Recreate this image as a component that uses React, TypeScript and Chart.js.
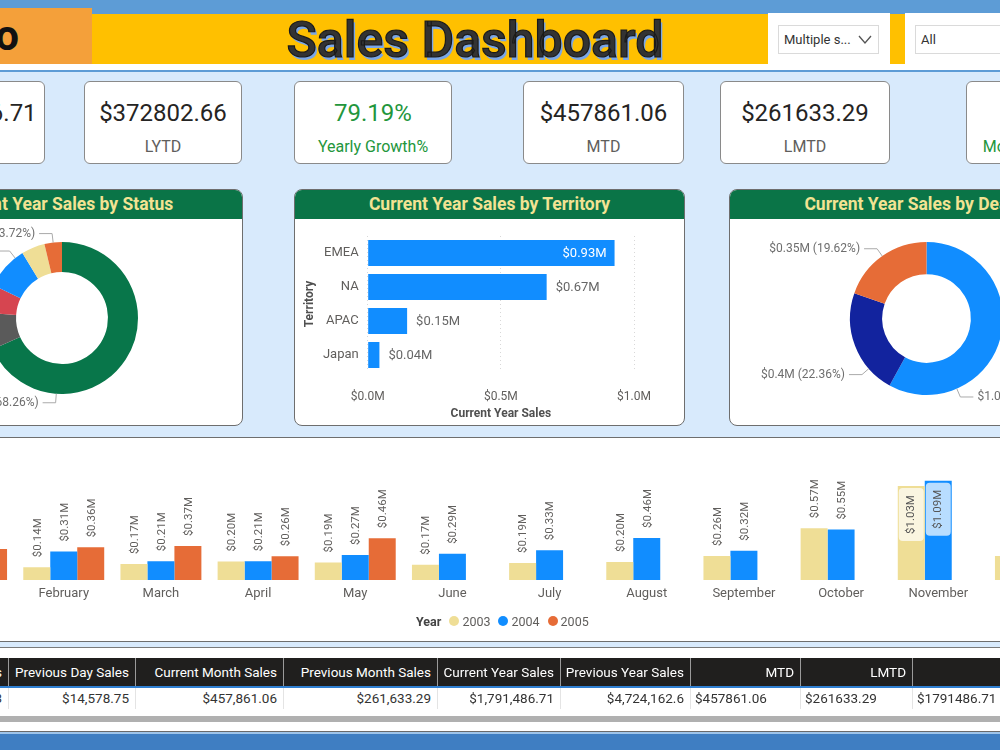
import React, { useEffect, useRef } from "react";
import { Chart, registerables } from "chart.js";
Chart.register(...registerables);
Chart.defaults.font.family = "Roboto, 'Noto Sans', sans-serif";

// ---------- data ----------
const months = ["January","February","March","April","May","June","July","August","September","October","November","December"];
const sales2003 = [0.1298, 0.1408, 0.1745, 0.2016, 0.1927, 0.1681, 0.1877, 0.1978, 0.2640, 0.5683, 1.0298, 0.2619];
const sales2004 = [0.3166, 0.3114, 0.2057, 0.2061, 0.2734, 0.2867, 0.3271, 0.4615, 0.3208, 0.5529, 1.0890, 0.3728];
const sales2005 = [0.3395, 0.3582, 0.3743, 0.2616, 0.4579, null, null, null, null, null, null, null];
const yearLabels = ["2003", "2004", "2005"];

const territories = ["EMEA", "NA", "APAC", "Japan"];
const territorySales = [0.927, 0.672, 0.148, 0.044];
const territoryTicks = [0, 0.5, 1.0];

const statusLabels = ["Shipped", "Cancelled", "Resolved", "On Hold", "In Process", "Disputed"];
const statusSales = [1.2229, 0.1401, 0.1075, 0.1648, 0.0896, 0.0666];

const dealLabels = ["Medium", "Small", "Large"];
const dealSales = [1.0394, 0.4006, 0.3515];

const kpiValues = ["$1791486.71", "$372802.66", "79.19%", "$457861.06", "$261633.29", "75.00%"];
const kpiNames = ["YTD", "LYTD", "Yearly Growth%", "MTD", "LMTD", "Monthly Growth%"];

const tableHeaders = ["Current Day Sales", "Previous Day Sales", "Current Month Sales", "Previous Month Sales", "Current Year Sales", "Previous Year Sales", "MTD", "LMTD", "YTD"];
const tableValues = ["$10,253.43", "$14,578.75", "$457,861.06", "$261,633.29", "$1,791,486.71", "$4,724,162.6", "$457861.06", "$261633.29", "$1791486.71"];

// ---------- styles ----------
const yearColors = ["#EFDE96", "#118DFF", "#E66C37"];
const statusColors = ["#08764A", "#5A5A5A", "#D64550", "#118DFF", "#EFDE96", "#E66C37"];
const dealColors = ["#118DFF", "#12239E", "#E66C37"];
const GREEN = "#0A7447";
const TITLE = "#F2E393";

const fmtM = (v: number) => "$" + Number(v.toFixed(2)) + "M";
const fmt2 = (v: number) => "$" + v.toFixed(2) + "M";

// ---------- plugins ----------
const donutLabels = {
  id: "donutLabels",
  afterDatasetsDraw(chart: any, _a: any, opts: any) {
    const { ctx } = chart;
    const meta = chart.getDatasetMeta(0);
    const data = chart.data.datasets[0].data as number[];
    const total = data.reduce((a, b) => a + b, 0);
    ctx.save();
    ctx.font = "12px Roboto, 'Noto Sans', sans-serif";
    (opts.items || []).forEach((it: any) => {
      const arc = meta.data[it.index];
      const p = arc.getProps(["x", "y", "startAngle", "endAngle", "outerRadius"], true);
      const a = p.startAngle + (p.endAngle - p.startAngle) * it.at;
      const ax = p.x + Math.cos(a) * p.outerRadius;
      const ay = p.y + Math.sin(a) * p.outerRadius;
      const ex = p.x + Math.cos(a) * (p.outerRadius + 9);
      const ey = p.y + Math.sin(a) * (p.outerRadius + 9);
      const left = ex < p.x;
      const hx = ex + (left ? -13 : 13);
      ctx.strokeStyle = "#AAAAAA";
      ctx.lineWidth = 1;
      ctx.beginPath();
      ctx.moveTo(ax, ay);
      ctx.lineTo(ex, ey);
      ctx.lineTo(hx, ey);
      ctx.stroke();
      const v = data[it.index];
      const pct = ((v / total) * 100).toFixed(2).replace(/\.?0+$/, "");
      const text = fmtM(v) + " (" + pct + "%)";
      ctx.fillStyle = "#6E6E6E";
      ctx.textAlign = left ? "right" : "left";
      ctx.textBaseline = "middle";
      ctx.fillText(text, hx + (left ? -4 : 4), ey);
    });
    ctx.restore();
  },
};

const hbarLabels = {
  id: "hbarLabels",
  afterDatasetsDraw(chart: any) {
    const { ctx, chartArea } = chart;
    const meta = chart.getDatasetMeta(0);
    const data = chart.data.datasets[0].data as number[];
    ctx.save();
    ctx.font = "13px Roboto, 'Noto Sans', sans-serif";
    ctx.textBaseline = "middle";
    meta.data.forEach((bar: any, i: number) => {
      const text = fmt2(data[i]);
      const w = ctx.measureText(text).width;
      if (bar.x + 9 + w > chartArea.right) {
        ctx.fillStyle = "#FFFFFF";
        ctx.textAlign = "right";
        ctx.fillText(text, bar.x - 8, bar.y + 1);
      } else {
        ctx.fillStyle = "#666666";
        ctx.textAlign = "left";
        ctx.fillText(text, bar.x + 9, bar.y + 1);
      }
    });
    ctx.restore();
  },
};

const vbarLabels = {
  id: "vbarLabels",
  afterDatasetsDraw(chart: any) {
    const { ctx, chartArea } = chart;
    ctx.save();
    ctx.font = "11.5px Roboto, 'Noto Sans', sans-serif";
    ctx.textBaseline = "middle";
    chart.data.datasets.forEach((ds: any, di: number) => {
      const meta = chart.getDatasetMeta(di);
      meta.data.forEach((bar: any, i: number) => {
        const v = ds.data[i];
        if (v === null || v === undefined) return;
        const text = fmt2(v);
        const w = ctx.measureText(text).width;
        const gap = 10;
        if (bar.y - gap - w < chartArea.top) {
          const bw = bar.width;
          const bx = bar.x - bw / 2 + 1;
          const by = bar.y + 2;
          const bh = w + 14;
          ctx.fillStyle = "rgba(255,255,255,0.7)";
          ctx.beginPath();
          (ctx as any).roundRect(bx, by, bw - 2, bh, 4);
          ctx.fill();
          ctx.save();
          ctx.translate(bar.x, by + bh - 7);
          ctx.rotate(-Math.PI / 2);
          ctx.fillStyle = "#555555";
          ctx.textAlign = "left";
          ctx.fillText(text, 0, 0);
          ctx.restore();
        } else {
          ctx.save();
          ctx.translate(bar.x + 1, bar.y - gap);
          ctx.rotate(-Math.PI / 2);
          ctx.fillStyle = "#605E5C";
          ctx.textAlign = "left";
          ctx.fillText(text, 0, 0);
          ctx.restore();
        }
      });
    });
    ctx.restore();
  },
};

// ---------- chart canvas ----------
function ChartBox({ left, top, width, height, make }: any) {
  const ref = useRef<HTMLCanvasElement>(null);
  useEffect(() => {
    const chart = new Chart(ref.current as HTMLCanvasElement, make());
    return () => chart.destroy();
  }, []);
  return (
    <canvas
      ref={ref}
      width={width}
      height={height}
      style={{ position: "absolute", left, top, width, height }}
    />
  );
}

const statusConfig = () => ({
  type: "doughnut",
  data: {
    labels: statusLabels,
    datasets: [{ data: statusSales, backgroundColor: statusColors, borderWidth: 0, hoverOffset: 0, offset: 0 }],
  },
  options: {
    animation: false,
    responsive: false,
    cutout: "60.5%",
    layout: { padding: { top: 23, bottom: 32, left: 0, right: 0 } },
    plugins: {
      legend: { display: false },
      tooltip: { enabled: false },
      donutLabels: { items: [{ index: 0, at: 0.75 }, { index: 3, at: 0.8 }, { index: 5, at: 0.5 }] },
    },
  },
  plugins: [donutLabels],
});

const dealConfig = () => ({
  type: "doughnut",
  data: {
    labels: dealLabels,
    datasets: [{ data: dealSales, backgroundColor: dealColors, borderWidth: 0, hoverOffset: 0, offset: 0 }],
  },
  options: {
    animation: false,
    responsive: false,
    cutout: "58%",
    layout: { padding: { top: 23, bottom: 31, left: 0, right: 0 } },
    plugins: {
      legend: { display: false },
      tooltip: { enabled: false },
      donutLabels: { items: [{ index: 0, at: 0.75 }, { index: 1, at: 0.25 }, { index: 2, at: 0.5 }] },
    },
  },
  plugins: [donutLabels],
});

const territoryConfig = () => ({
  type: "bar",
  data: {
    labels: territories,
    datasets: [{ data: territorySales, backgroundColor: "#118DFF", barPercentage: 1, categoryPercentage: 0.765 }],
  },
  options: {
    indexAxis: "y",
    animation: false,
    responsive: false,
    layout: { padding: { top: 17, right: 50, bottom: 0, left: 0 } },
    plugins: { legend: { display: false }, tooltip: { enabled: false } },
    scales: {
      x: {
        min: territoryTicks[0],
        max: territoryTicks[territoryTicks.length - 1],
        afterBuildTicks: (s: any) => { s.ticks = territoryTicks.map((v) => ({ value: v })); },
        ticks: { callback: (v: any) => "$" + Number(v).toFixed(1) + "M", color: "#605E5C", font: { size: 12 }, padding: 18, maxRotation: 0 },
        grid: { drawTicks: false, color: "#D8D8D8", lineWidth: 1 },
        border: { display: false, dash: [1, 3] },
        title: { display: true, text: "Current Year Sales", color: "#505050", font: { size: 12, weight: "bold" }, padding: { top: 0, bottom: 4 } },
        afterFit: (s: any) => { s.height = 53; },
      },
      y: {
        ticks: { color: "#605E5C", font: { size: 13 }, padding: 9 },
        grid: { display: false, drawTicks: false },
        border: { display: false },
        title: { display: true, text: "Territory", color: "#505050", font: { size: 12, weight: "bold" }, padding: { top: 8, bottom: 0 } },
        afterFit: (s: any) => { s.width = 72.7; },
      },
    },
  },
  plugins: [hbarLabels],
});

const monthlyConfig = () => ({
  type: "bar",
  data: {
    labels: months,
    datasets: [
      { label: yearLabels[0], data: sales2003, backgroundColor: yearColors[0] },
      { label: yearLabels[1], data: sales2004, backgroundColor: yearColors[1] },
      { label: yearLabels[2], data: sales2005, backgroundColor: yearColors[2] },
    ],
  },
  options: {
    animation: false,
    responsive: false,
    datasets: { bar: { categoryPercentage: 0.833, barPercentage: 1 } },
    layout: { padding: { top: 32.6, bottom: 30, left: 0, right: 0 } },
    plugins: { legend: { display: false }, tooltip: { enabled: false } },
    scales: {
      x: {
        grid: { display: false, drawTicks: false },
        border: { display: false },
        ticks: { color: "#605E5C", font: { size: 13 }, padding: 6, autoSkip: false, maxRotation: 0 },
        afterFit: (s: any) => { s.height = 30; },
      },
      y: { display: false, min: 0, max: 1.2 },
    },
  },
  plugins: [vbarLabels],
});

// ---------- layout pieces ----------
const cardXs = [[-113, 158], [84, 158], [294, 158], [523, 161], [720, 170], [966, 158]];
const cardGreen = [false, false, true, false, false, true];

function Card({ i }: { i: number }) {
  const [x, w] = cardXs[i];
  const g = cardGreen[i];
  return (
    <div style={{ position: "absolute", left: x, top: 81, width: w, height: 83, background: "#fff", border: "1.5px solid #8A8A8A", borderRadius: 6, boxSizing: "border-box" }}>
      <div style={{ position: "absolute", left: 0, right: 0, top: 17, textAlign: "center", fontSize: 24, color: g ? "#23963C" : "#252423", whiteSpace: "nowrap" }}>{kpiValues[i]}</div>
      <div style={{ position: "absolute", left: 0, right: 0, top: 55, textAlign: "center", fontSize: 16, color: g ? "#23963C" : "#605E5C", whiteSpace: "nowrap" }}>{kpiNames[i]}</div>
    </div>
  );
}

function Panel({ left, width, title, children }: any) {
  return (
    <div style={{ position: "absolute", left, top: 189, width, height: 237, background: "#fff", border: "1.5px solid #6E6E6E", borderRadius: 8, boxSizing: "border-box", overflow: "hidden" }}>
      <div style={{ position: "absolute", left: 0, top: 0, right: 0, height: 29, background: GREEN, color: TITLE, fontWeight: 700, fontSize: 17.5, textAlign: "center", lineHeight: "28px", whiteSpace: "nowrap" }}>{title}</div>
      {children}
    </div>
  );
}

const colEdges = [-120, 9, 136, 284, 438, 561, 691, 801, 913, 1080];
const valueLeft = [false, false, false, false, false, false, true, true, true];

function Table() {
  return (
    <div style={{ position: "absolute", left: -2, top: 647, width: 1004, height: 85, background: "#fff", borderTop: "1px solid #7A7A7A", borderBottom: "1.5px solid #6A6A6A", boxSizing: "border-box" }}>
      {tableHeaders.map((h, i) => {
        const l = colEdges[i] + 2, w = colEdges[i + 1] - colEdges[i];
        return (
          <React.Fragment key={i}>
            <div style={{ position: "absolute", left: l, top: 10, width: w, height: 28, background: "#201F1E", borderRight: "1.5px solid #9A9A9A", boxSizing: "border-box", color: "#fff", fontSize: 13.5, lineHeight: "28px", textAlign: "right", paddingRight: 6, whiteSpace: "nowrap", overflow: "hidden" }}>{h}</div>
            <div style={{ position: "absolute", left: l, top: 39, width: w, height: 22, borderRight: "1px solid #E4E4E4", boxSizing: "border-box", color: "#333", fontSize: 13.5, lineHeight: "22px", textAlign: valueLeft[i] ? "left" : "right", paddingRight: 6, paddingLeft: 4, whiteSpace: "nowrap", overflow: "hidden" }}>{tableValues[i]}</div>
          </React.Fragment>
        );
      })}
      <div style={{ position: "absolute", left: 0, right: 0, top: 38, height: 1.5, background: "#2F7FD1" }} />
      <div style={{ position: "absolute", left: 0, right: 0, top: 68, height: 6, background: "#B0B0B0" }} />
    </div>
  );
}

export default function App() {
  return (
    <div style={{ position: "fixed", left: 0, top: 0, width: 1000, height: 750, overflow: "hidden", background: "#D8EAFC", fontFamily: "Roboto, 'Noto Sans', sans-serif" }}>
      {/* top strip */}
      <div style={{ position: "absolute", left: 0, top: 0, width: 1000, height: 14, background: "#5D9CD6" }} />
      <div style={{ position: "absolute", left: 0, top: 14, width: 1000, height: 50, background: "#FFC000" }} />
      <div style={{ position: "absolute", left: 0, top: 64, width: 1000, height: 6, background: "#fff" }} />
      <div style={{ position: "absolute", left: 0, top: 70, width: 1000, height: 1.5, background: "#5D9CD6" }} />
      {/* logo box */}
      <div style={{ position: "absolute", left: -80, top: 8, width: 172, height: 56, background: "#F4A03A", overflow: "hidden" }}>
        <div style={{ position: "absolute", right: 73, top: 4, fontSize: 42, fontWeight: 700, color: "#111", lineHeight: "48px" }}>Logo</div>
      </div>
      {/* title */}
      <div style={{ position: "absolute", left: 175, width: 600, top: 11, textAlign: "center", fontSize: 50, fontWeight: 500, color: "#333333", lineHeight: "58px", WebkitTextStroke: "1.2px #1A1A1A", textShadow: "2px 3px 0 #7AA6E6", whiteSpace: "nowrap" }}>Sales Dashboard</div>
      {/* slicers */}
      <div style={{ position: "absolute", left: 768, top: 13, width: 122, height: 51, background: "#fff" }}>
        <div style={{ position: "absolute", left: 10, top: 12, width: 101, height: 29, border: "1px solid #DADADA", boxSizing: "border-box", fontSize: 13, color: "#333", lineHeight: "27px", paddingLeft: 5 }}>
          Multiple s...
          <svg width="14" height="10" style={{ position: "absolute", right: 6, top: 9 }}>
            <polyline points="1,1 7,8 13,1" fill="none" stroke="#555" strokeWidth="1.3" />
          </svg>
        </div>
      </div>
      <div style={{ position: "absolute", left: 905, top: 13, width: 120, height: 51, background: "#fff" }}>
        <div style={{ position: "absolute", left: 10, top: 12, width: 110, height: 29, border: "1px solid #DADADA", boxSizing: "border-box", fontSize: 13, color: "#333", lineHeight: "27px", paddingLeft: 5 }}>All</div>
      </div>
      {/* KPI cards */}
      {kpiValues.map((_, i) => <Card key={i} i={i} />)}
      {/* panels */}
      <Panel left={-121} width={364} title="Current Year Sales by Status">
        <ChartBox left={0} top={29} width={364} height={207} make={statusConfig} />
      </Panel>
      <Panel left={294} width={391} title="Current Year Sales by Territory">
        <ChartBox left={0} top={29} width={389} height={206} make={territoryConfig} />
      </Panel>
      <Panel left={729} width={393} title="Current Year Sales by DealSize">
        <ChartBox left={0} top={29} width={393} height={207} make={dealConfig} />
      </Panel>
      {/* monthly chart panel */}
      <div style={{ position: "absolute", left: -5, top: 437, width: 1010, height: 205, background: "#fff", borderTop: "1.5px solid #6E6E6E", borderBottom: "1.5px solid #6E6E6E", boxSizing: "border-box" }} />
      <ChartBox left={-82} top={438} width={1166} height={202} make={monthlyConfig} />
      <div style={{ position: "absolute", left: 416, top: 612, height: 18, display: "flex", alignItems: "center", fontSize: 12.5, color: "#605E5C", whiteSpace: "nowrap" }}>
        <span style={{ fontWeight: 700, color: "#444", marginRight: 8 }}>Year</span>
        {yearLabels.map((y, i) => (
          <span key={y} style={{ display: "flex", alignItems: "center", marginRight: 8 }}>
            <span style={{ width: 10, height: 10, borderRadius: 5, background: yearColors[i], display: "inline-block", marginRight: 3 }} />
            {y}
          </span>
        ))}
      </div>
      <Table />
      {/* bottom strip */}
      <div style={{ position: "absolute", left: 0, top: 732, width: 1000, height: 2, background: "#9EC4EA" }} />
      <div style={{ position: "absolute", left: 0, top: 734, width: 1000, height: 16, background: "#3F7EC2" }} />
    </div>
  );
}
